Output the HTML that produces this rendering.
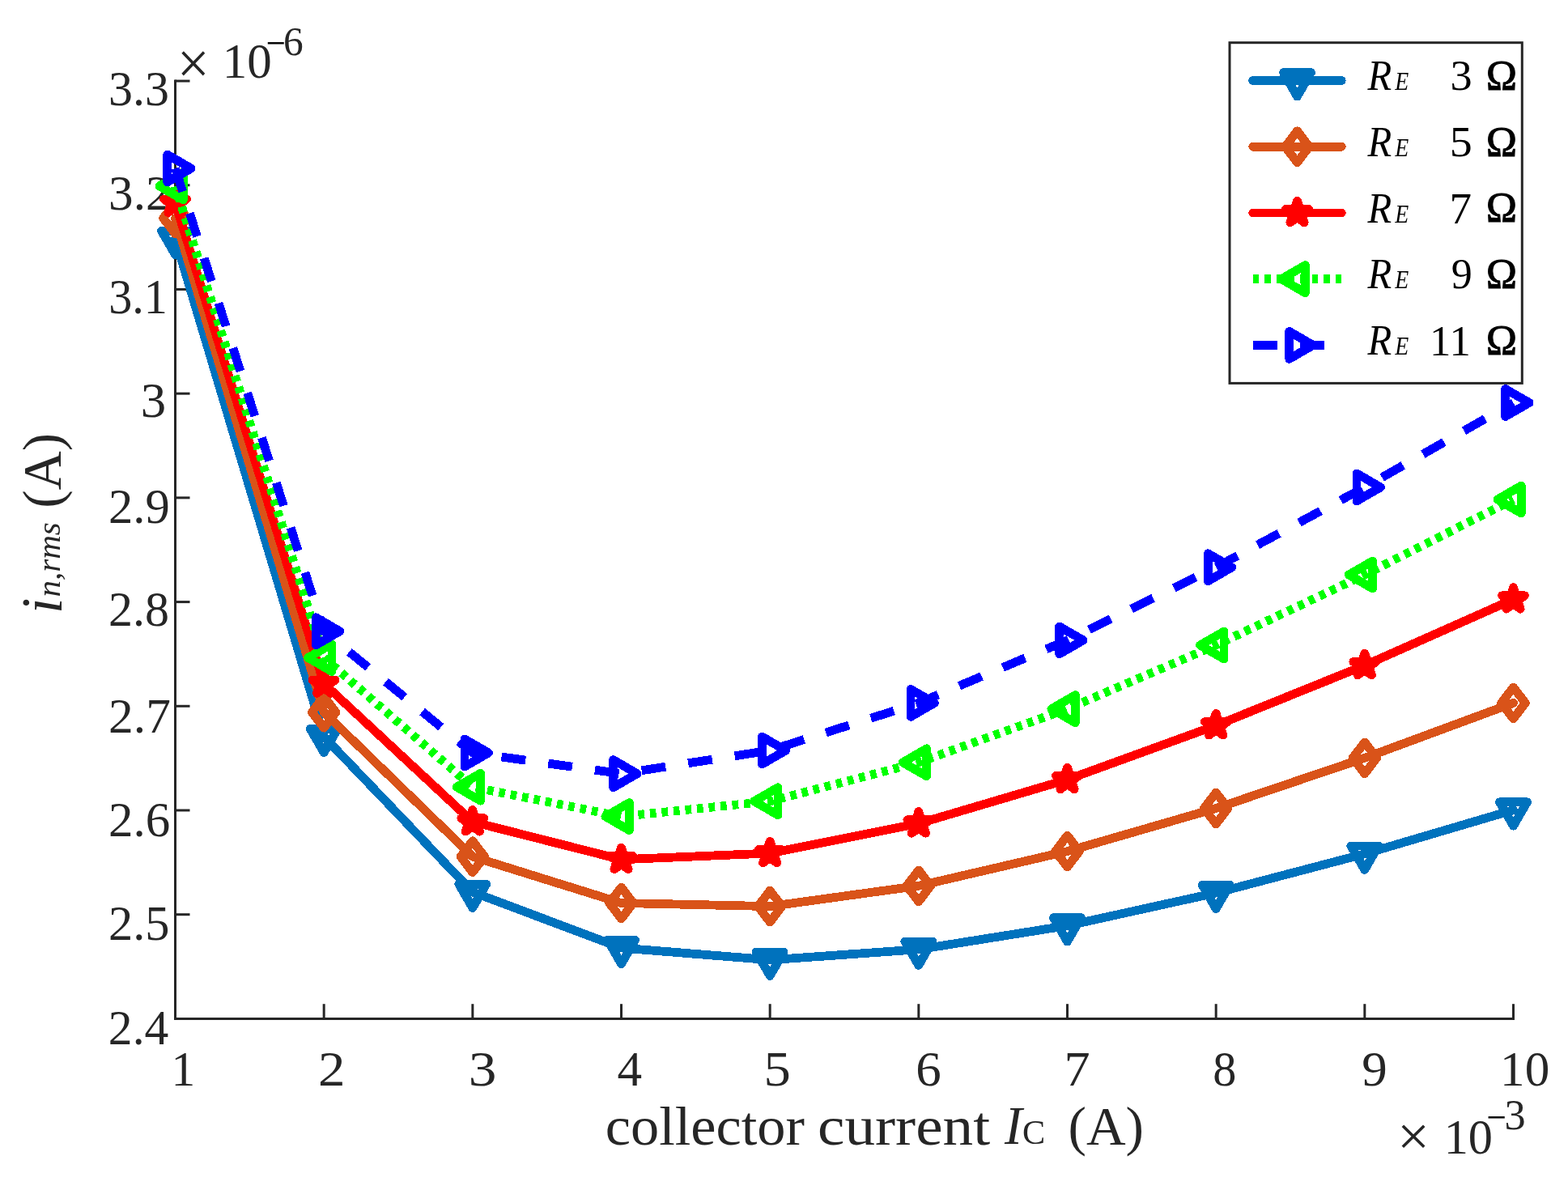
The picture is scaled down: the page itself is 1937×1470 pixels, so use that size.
<!DOCTYPE html>
<html><head><meta charset="utf-8"><title>plot</title>
<style>html,body{margin:0;padding:0;background:#fff;width:1937px;height:1470px}svg{display:block}
text{font-family:"Liberation Serif", serif;white-space:pre}</style></head><body>
<svg width="1937" height="1470" viewBox="0 0 1937 1470">
<rect x="0" y="0" width="1937" height="1470" fill="#fff"/>
<text x="133.87" y="1290.40" font-size="62.30" fill="#262626"  textLength="74.45" lengthAdjust="spacingAndGlyphs">2.4</text>
<text x="134.09" y="1160.64" font-size="62.30" fill="#262626"  textLength="75.48" lengthAdjust="spacingAndGlyphs">2.5</text>
<text x="134.06" y="1032.51" font-size="62.30" fill="#262626"  textLength="76.26" lengthAdjust="spacingAndGlyphs">2.6</text>
<text x="134.04" y="905.04" font-size="62.30" fill="#262626"  textLength="76.83" lengthAdjust="spacingAndGlyphs">2.7</text>
<text x="134.09" y="773.32" font-size="62.30" fill="#262626"  textLength="74.98" lengthAdjust="spacingAndGlyphs">2.8</text>
<text x="134.06" y="645.85" font-size="62.30" fill="#262626"  textLength="75.74" lengthAdjust="spacingAndGlyphs">2.9</text>
<text x="173.75" y="514.95" font-size="62.30" fill="#262626"  textLength="31.42" lengthAdjust="spacingAndGlyphs">3</text>
<text x="134.20" y="387.26" font-size="62.30" fill="#262626"  textLength="72.70" lengthAdjust="spacingAndGlyphs">3.1</text>
<text x="134.05" y="259.15" font-size="62.30" fill="#262626"  textLength="76.54" lengthAdjust="spacingAndGlyphs">3.2</text>
<text x="134.11" y="129.79" font-size="62.30" fill="#262626"  textLength="74.94" lengthAdjust="spacingAndGlyphs">3.3</text>
<text x="211.59" y="1340.50" font-size="62.30" fill="#262626"  textLength="29.72" lengthAdjust="spacingAndGlyphs">1</text>
<text x="393.13" y="1340.50" font-size="62.30" fill="#262626"  textLength="33.52" lengthAdjust="spacingAndGlyphs">2</text>
<text x="578.66" y="1340.50" font-size="62.30" fill="#262626"  textLength="34.68" lengthAdjust="spacingAndGlyphs">3</text>
<text x="762.39" y="1340.50" font-size="62.30" fill="#262626"  textLength="30.60" lengthAdjust="spacingAndGlyphs">4</text>
<text x="943.41" y="1340.50" font-size="62.30" fill="#262626"  textLength="33.33" lengthAdjust="spacingAndGlyphs">5</text>
<text x="1131.32" y="1340.50" font-size="62.30" fill="#262626"  textLength="31.52" lengthAdjust="spacingAndGlyphs">6</text>
<text x="1314.56" y="1340.50" font-size="62.30" fill="#262626"  textLength="32.16" lengthAdjust="spacingAndGlyphs">7</text>
<text x="1498.13" y="1340.50" font-size="62.30" fill="#262626"  textLength="29.11" lengthAdjust="spacingAndGlyphs">8</text>
<text x="1682.30" y="1340.50" font-size="62.30" fill="#262626"  textLength="31.50" lengthAdjust="spacingAndGlyphs">9</text>
<text x="1853.10" y="1340.50" font-size="62.30" fill="#262626"  textLength="61.17" lengthAdjust="spacingAndGlyphs">10</text>
<text x="218.82" y="102.65" font-size="73.41" fill="#262626"  textLength="40.03" lengthAdjust="spacingAndGlyphs">×</text>
<text x="274.66" y="96.26" font-size="61.99" fill="#262626"  textLength="61.08" lengthAdjust="spacingAndGlyphs">10</text>
<text x="328.42" y="69.88" font-size="50.00" fill="#000"  textLength="24.23" lengthAdjust="spacingAndGlyphs">−</text>
<text x="350.02" y="67.52" font-size="51.15" fill="#262626"  textLength="24.71" lengthAdjust="spacingAndGlyphs">6</text>
<text x="1726.06" y="1426.96" font-size="69.78" fill="#262626"  textLength="40.03" lengthAdjust="spacingAndGlyphs">×</text>
<text x="1783.68" y="1424.52" font-size="61.30" fill="#262626"  textLength="60.31" lengthAdjust="spacingAndGlyphs">10</text>
<text x="1836.15" y="1397.12" font-size="50.00" fill="#000"  textLength="24.52" lengthAdjust="spacingAndGlyphs">−</text>
<text x="1858.43" y="1395.24" font-size="51.88" fill="#262626"  textLength="26.14" lengthAdjust="spacingAndGlyphs">3</text>
<text x="747.73" y="1413.68" font-size="68.00" fill="#262626"  textLength="246.32" lengthAdjust="spacingAndGlyphs">collector</text>
<text x="1010.04" y="1413.68" font-size="68.00" fill="#262626"  textLength="213.05" lengthAdjust="spacingAndGlyphs">current</text>
<text x="1241.00" y="1412.84" font-size="68.00" fill="#262626" font-style="italic" textLength="21.75" lengthAdjust="spacingAndGlyphs">I</text>
<text x="1263.08" y="1413.48" font-size="43.21" fill="#262626"  textLength="28.19" lengthAdjust="spacingAndGlyphs">C</text>
<text x="1319.51" y="1413.82" font-size="67.24" fill="#262626"  textLength="93.51" lengthAdjust="spacingAndGlyphs">(A)</text>
<text transform="translate(75.52,757.95) rotate(-90)" font-size="71.28" fill="#262626" font-style="italic" textLength="19.43" lengthAdjust="spacingAndGlyphs">i</text>
<text transform="translate(73.76,737.52) rotate(-90)" font-size="39.94" fill="#262626" font-style="italic" textLength="92.18" lengthAdjust="spacingAndGlyphs">n,rms</text>
<text transform="translate(74.68,627.79) rotate(-90)" font-size="68.00" fill="#262626"  textLength="92.97" lengthAdjust="spacingAndGlyphs">(A)</text>
<g stroke="#262626" stroke-width="3" fill="none" stroke-linecap="butt">
<path d="M216.5,98.5 L216.5,1258.4 L1871,1258.4"/>
<path d="M216.5,1129.69 H234.5"/>
<path d="M216.5,1000.99 H234.5"/>
<path d="M216.5,872.28 H234.5"/>
<path d="M216.5,743.58 H234.5"/>
<path d="M216.5,614.87 H234.5"/>
<path d="M216.5,486.17 H234.5"/>
<path d="M216.5,357.46 H234.5"/>
<path d="M216.5,228.76 H234.5"/>
<path d="M216.5,100.05 H234.5"/>
<path d="M400.17,1258.4 V1240.2"/>
<path d="M583.83,1258.4 V1240.2"/>
<path d="M767.50,1258.4 V1240.2"/>
<path d="M951.17,1258.4 V1240.2"/>
<path d="M1134.83,1258.4 V1240.2"/>
<path d="M1318.50,1258.4 V1240.2"/>
<path d="M1502.17,1258.4 V1240.2"/>
<path d="M1685.83,1258.4 V1240.2"/>
<path d="M1869.50,1258.4 V1240.2"/>
</g>
<polyline points="216.50,295.00 400.17,910.00 583.83,1101.90 767.50,1171.00 951.17,1185.80 1134.83,1172.80 1318.50,1143.50 1502.17,1103.00 1685.83,1054.80 1869.50,1000.60" fill="none" stroke="#0072BD" stroke-width="10.8" stroke-linejoin="round" stroke-linecap="round" shape-rendering="crispEdges"/>
<path d="M199.53,285.20 L233.47,285.20 L216.50,314.60 Z M383.19,900.20 L417.14,900.20 L400.17,929.60 Z M566.86,1092.10 L600.81,1092.10 L583.83,1121.50 Z M750.53,1161.20 L784.47,1161.20 L767.50,1190.60 Z M934.19,1176.00 L968.14,1176.00 L951.17,1205.40 Z M1117.86,1163.00 L1151.81,1163.00 L1134.83,1192.40 Z M1301.53,1133.70 L1335.47,1133.70 L1318.50,1163.10 Z M1485.19,1093.20 L1519.14,1093.20 L1502.17,1122.60 Z M1668.86,1045.00 L1702.81,1045.00 L1685.83,1074.40 Z M1852.53,990.80 L1886.47,990.80 L1869.50,1020.20 Z" fill="none" stroke="#0072BD" stroke-width="10.8" stroke-linejoin="round" shape-rendering="crispEdges"/>
<polyline points="216.50,269.50 400.17,879.80 583.83,1058.20 767.50,1115.50 951.17,1119.60 1134.83,1094.30 1318.50,1051.60 1502.17,998.50 1685.83,936.30 1869.50,868.40" fill="none" stroke="#D95319" stroke-width="10.8" stroke-linejoin="round" stroke-linecap="round" shape-rendering="crispEdges"/>
<path d="M216.50,250.10 L231.30,269.50 L216.50,288.90 L201.70,269.50 Z M400.17,860.40 L414.97,879.80 L400.17,899.20 L385.37,879.80 Z M583.83,1038.80 L598.63,1058.20 L583.83,1077.60 L569.03,1058.20 Z M767.50,1096.10 L782.30,1115.50 L767.50,1134.90 L752.70,1115.50 Z M951.17,1100.20 L965.97,1119.60 L951.17,1139.00 L936.37,1119.60 Z M1134.83,1074.90 L1149.63,1094.30 L1134.83,1113.70 L1120.03,1094.30 Z M1318.50,1032.20 L1333.30,1051.60 L1318.50,1071.00 L1303.70,1051.60 Z M1502.17,979.10 L1516.97,998.50 L1502.17,1017.90 L1487.37,998.50 Z M1685.83,916.90 L1700.63,936.30 L1685.83,955.70 L1671.03,936.30 Z M1869.50,849.00 L1884.30,868.40 L1869.50,887.80 L1854.70,868.40 Z" fill="none" stroke="#D95319" stroke-width="10.8" stroke-linejoin="round" shape-rendering="crispEdges"/>
<polyline points="216.50,250.50 400.17,844.50 583.83,1015.20 767.50,1061.80 951.17,1054.00 1134.83,1017.30 1318.50,963.00 1502.17,896.20 1685.83,822.00 1869.50,740.30" fill="none" stroke="#FF0000" stroke-width="10.8" stroke-linejoin="round" stroke-linecap="round" shape-rendering="crispEdges"/>
<path d="M216.50,235.80 L219.80,245.96 L230.48,245.96 L221.84,252.24 L225.14,262.39 L216.50,256.12 L207.86,262.39 L211.16,252.24 L202.52,245.96 L213.20,245.96 Z M400.17,829.80 L403.47,839.96 L414.15,839.96 L405.51,846.24 L408.81,856.39 L400.17,850.12 L391.53,856.39 L394.83,846.24 L386.19,839.96 L396.87,839.96 Z M583.83,1000.50 L587.13,1010.66 L597.81,1010.66 L589.17,1016.94 L592.47,1027.09 L583.83,1020.82 L575.19,1027.09 L578.49,1016.94 L569.85,1010.66 L580.53,1010.66 Z M767.50,1047.10 L770.80,1057.26 L781.48,1057.26 L772.84,1063.54 L776.14,1073.69 L767.50,1067.42 L758.86,1073.69 L762.16,1063.54 L753.52,1057.26 L764.20,1057.26 Z M951.17,1039.30 L954.47,1049.46 L965.15,1049.46 L956.51,1055.74 L959.81,1065.89 L951.17,1059.62 L942.53,1065.89 L945.83,1055.74 L937.19,1049.46 L947.87,1049.46 Z M1134.83,1002.60 L1138.13,1012.76 L1148.81,1012.76 L1140.17,1019.04 L1143.47,1029.19 L1134.83,1022.92 L1126.19,1029.19 L1129.49,1019.04 L1120.85,1012.76 L1131.53,1012.76 Z M1318.50,948.30 L1321.80,958.46 L1332.48,958.46 L1323.84,964.74 L1327.14,974.89 L1318.50,968.62 L1309.86,974.89 L1313.16,964.74 L1304.52,958.46 L1315.20,958.46 Z M1502.17,881.50 L1505.47,891.66 L1516.15,891.66 L1507.51,897.94 L1510.81,908.09 L1502.17,901.82 L1493.53,908.09 L1496.83,897.94 L1488.19,891.66 L1498.87,891.66 Z M1685.83,807.30 L1689.13,817.46 L1699.81,817.46 L1691.17,823.74 L1694.47,833.89 L1685.83,827.62 L1677.19,833.89 L1680.49,823.74 L1671.85,817.46 L1682.53,817.46 Z M1869.50,725.60 L1872.80,735.76 L1883.48,735.76 L1874.84,742.04 L1878.14,752.19 L1869.50,745.92 L1860.86,752.19 L1864.16,742.04 L1855.52,735.76 L1866.20,735.76 Z" fill="none" stroke="#FF0000" stroke-width="10.8" stroke-linejoin="round" shape-rendering="crispEdges"/>
<polyline points="216.50,229.90 400.17,812.50 583.83,972.20 767.50,1008.60 951.17,989.80 1134.83,941.80 1318.50,875.70 1502.17,797.00 1685.83,710.00 1869.50,617.00" fill="none" stroke="#00FF00" stroke-width="10.8" stroke-linejoin="round" stroke-dasharray="7.7 6.89" stroke-dashoffset="2.6" stroke-linecap="butt" shape-rendering="crispEdges"/>
<path d="M226.30,212.93 L226.30,246.87 L196.90,229.90 Z M409.97,795.53 L409.97,829.47 L380.57,812.50 Z M593.63,955.23 L593.63,989.17 L564.23,972.20 Z M777.30,991.63 L777.30,1025.57 L747.90,1008.60 Z M960.97,972.83 L960.97,1006.77 L931.57,989.80 Z M1144.63,924.83 L1144.63,958.77 L1115.23,941.80 Z M1328.30,858.73 L1328.30,892.67 L1298.90,875.70 Z M1511.97,780.03 L1511.97,813.97 L1482.57,797.00 Z M1695.63,693.03 L1695.63,726.97 L1666.23,710.00 Z M1879.30,600.03 L1879.30,633.97 L1849.90,617.00 Z" fill="none" stroke="#00FF00" stroke-width="10.8" stroke-linejoin="round" shape-rendering="crispEdges"/>
<polyline points="216.50,208.00 400.17,779.80 583.83,930.00 767.50,955.70 951.17,927.00 1134.83,868.40 1318.50,790.90 1502.17,700.80 1685.83,601.90 1869.50,497.50" fill="none" stroke="#0000FF" stroke-width="10.8" stroke-linejoin="round" stroke-dasharray="30 28.26" stroke-dashoffset="0" stroke-linecap="butt" shape-rendering="crispEdges"/>
<path d="M206.70,191.03 L206.70,224.97 L236.10,208.00 Z M390.37,762.83 L390.37,796.77 L419.77,779.80 Z M574.03,913.03 L574.03,946.97 L603.43,930.00 Z M757.70,938.73 L757.70,972.67 L787.10,955.70 Z M941.37,910.03 L941.37,943.97 L970.77,927.00 Z M1125.03,851.43 L1125.03,885.37 L1154.43,868.40 Z M1308.70,773.93 L1308.70,807.87 L1338.10,790.90 Z M1492.37,683.83 L1492.37,717.77 L1521.77,700.80 Z M1676.03,584.93 L1676.03,618.87 L1705.43,601.90 Z M1859.70,480.53 L1859.70,514.47 L1889.10,497.50 Z" fill="none" stroke="#0000FF" stroke-width="10.8" stroke-linejoin="round" shape-rendering="crispEdges"/>
<rect x="1519" y="52.7" width="361.29999999999995" height="420.7" fill="#fff" stroke="#262626" stroke-width="3"/>
<path d="M1547.7,99.50 H1657.3" fill="none" stroke="#0072BD" stroke-width="10.8" stroke-linecap="round" shape-rendering="crispEdges"/>
<path d="M1585.53,89.70 L1619.47,89.70 L1602.50,119.10 Z" fill="none" stroke="#0072BD" stroke-width="10.8" stroke-linejoin="round" shape-rendering="crispEdges"/>
<path d="M1547.7,181.23 H1657.3" fill="none" stroke="#D95319" stroke-width="10.8" stroke-linecap="round" shape-rendering="crispEdges"/>
<path d="M1602.50,161.83 L1617.30,181.23 L1602.50,200.63 L1587.70,181.23 Z" fill="none" stroke="#D95319" stroke-width="10.8" stroke-linejoin="round" shape-rendering="crispEdges"/>
<path d="M1547.7,262.96 H1657.3" fill="none" stroke="#FF0000" stroke-width="10.8" stroke-linecap="round" shape-rendering="crispEdges"/>
<path d="M1602.50,248.26 L1605.80,258.42 L1616.48,258.42 L1607.84,264.70 L1611.14,274.85 L1602.50,268.58 L1593.86,274.85 L1597.16,264.70 L1588.52,258.42 L1599.20,258.42 Z" fill="none" stroke="#FF0000" stroke-width="10.8" stroke-linejoin="round" shape-rendering="crispEdges"/>
<path d="M1547.7,344.69 H1657.3" fill="none" stroke="#00FF00" stroke-width="10.8" stroke-dasharray="7.7 6.89" stroke-dashoffset="0" stroke-linecap="butt" shape-rendering="crispEdges"/>
<path d="M1612.30,327.72 L1612.30,361.66 L1582.90,344.69 Z" fill="none" stroke="#00FF00" stroke-width="10.8" stroke-linejoin="round" shape-rendering="crispEdges"/>
<path d="M1547.7,426.42 H1657.3" fill="none" stroke="#0000FF" stroke-width="10.8" stroke-dasharray="30 28.26" stroke-dashoffset="0" stroke-linecap="butt" shape-rendering="crispEdges"/>
<path d="M1592.70,409.45 L1592.70,443.39 L1622.10,426.42 Z" fill="none" stroke="#0000FF" stroke-width="10.8" stroke-linejoin="round" shape-rendering="crispEdges"/>
<text x="1689.52" y="111.00" font-size="53.01" fill="#000" font-style="italic" textLength="29.72" lengthAdjust="spacingAndGlyphs">R</text>
<text x="1723.34" y="111.00" font-size="32.01" fill="#000" font-style="italic" textLength="16.98" lengthAdjust="spacingAndGlyphs">E</text>
<text x="1791.60" y="111.02" font-size="53.04" fill="#000"  textLength="27.17" lengthAdjust="spacingAndGlyphs">3</text>
<text x="1836.11" y="111.01" font-size="53.46" fill="#000" stroke="#000" stroke-width="1.2" textLength="37.91" lengthAdjust="spacingAndGlyphs">Ω</text>
<text x="1689.52" y="192.73" font-size="53.01" fill="#000" font-style="italic" textLength="29.72" lengthAdjust="spacingAndGlyphs">R</text>
<text x="1723.34" y="192.73" font-size="32.01" fill="#000" font-style="italic" textLength="16.98" lengthAdjust="spacingAndGlyphs">E</text>
<text x="1790.81" y="192.75" font-size="53.04" fill="#000"  textLength="28.03" lengthAdjust="spacingAndGlyphs">5</text>
<text x="1836.11" y="192.61" font-size="53.46" fill="#000" stroke="#000" stroke-width="1.2" textLength="37.91" lengthAdjust="spacingAndGlyphs">Ω</text>
<text x="1689.52" y="274.74" font-size="53.01" fill="#000" font-style="italic" textLength="29.72" lengthAdjust="spacingAndGlyphs">R</text>
<text x="1723.34" y="274.74" font-size="32.01" fill="#000" font-style="italic" textLength="16.98" lengthAdjust="spacingAndGlyphs">E</text>
<text x="1790.54" y="275.77" font-size="55.56" fill="#000"  textLength="27.57" lengthAdjust="spacingAndGlyphs">7</text>
<text x="1836.11" y="274.49" font-size="53.46" fill="#000" stroke="#000" stroke-width="1.2" textLength="37.91" lengthAdjust="spacingAndGlyphs">Ω</text>
<text x="1689.52" y="356.47" font-size="53.01" fill="#000" font-style="italic" textLength="29.72" lengthAdjust="spacingAndGlyphs">R</text>
<text x="1723.34" y="356.47" font-size="32.01" fill="#000" font-style="italic" textLength="16.98" lengthAdjust="spacingAndGlyphs">E</text>
<text x="1792.69" y="356.49" font-size="53.04" fill="#000"  textLength="25.99" lengthAdjust="spacingAndGlyphs">9</text>
<text x="1836.11" y="356.09" font-size="53.46" fill="#000" stroke="#000" stroke-width="1.2" textLength="37.91" lengthAdjust="spacingAndGlyphs">Ω</text>
<text x="1689.52" y="437.51" font-size="53.01" fill="#000" font-style="italic" textLength="29.72" lengthAdjust="spacingAndGlyphs">R</text>
<text x="1723.34" y="437.51" font-size="32.01" fill="#000" font-style="italic" textLength="16.98" lengthAdjust="spacingAndGlyphs">E</text>
<text x="1766.10" y="438.70" font-size="53.76" fill="#000"  textLength="50.79" lengthAdjust="spacingAndGlyphs">11</text>
<text x="1836.11" y="437.68" font-size="53.46" fill="#000" stroke="#000" stroke-width="1.2" textLength="37.91" lengthAdjust="spacingAndGlyphs">Ω</text>
</svg></body></html>
